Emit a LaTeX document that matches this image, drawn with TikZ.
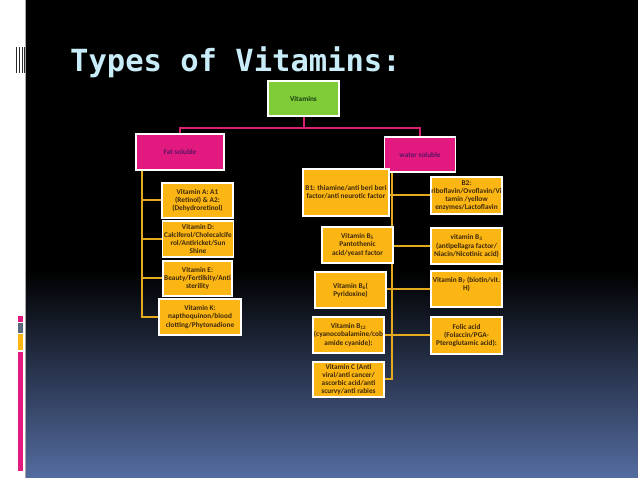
\documentclass[tikz,border=0pt]{standalone}
\usepackage{fontspec}
\setmainfont{Carlito}
\newfontfamily\titlefont{DejaVu Sans Mono}
\usetikzlibrary{calc}
\definecolor{boxyellow}{RGB}{252,182,20}
\definecolor{boxmag}{RGB}{226,25,127}
\definecolor{boxgreen}{RGB}{128,204,56}
\definecolor{lineyellow}{RGB}{230,170,30}
\definecolor{linemag}{RGB}{218,30,112}
\definecolor{titlecyan}{RGB}{200,236,248}
\definecolor{ytext}{RGB}{60,40,10}
\definecolor{mtext}{RGB}{90,20,100}
\definecolor{gtext}{RGB}{20,60,20}
\definecolor{slideblue}{RGB}{84,108,160}
\definecolor{markgray}{RGB}{90,105,125}
\pgfdeclarelayer{bg}
\pgfdeclarelayer{edges}
\pgfsetlayers{bg,edges,main}
\tikzset{
  vbox/.style={draw=white, line width=1.4pt, align=center, inner sep=0.5pt,
    font=\fontsize{7.3}{8.1}\selectfont\bfseries},
  ybox/.style={vbox, fill=boxyellow, text=ytext},
  mbox/.style={vbox, fill=boxmag, text=mtext},
  gbox/.style={vbox, fill=boxgreen, text=gtext},
  yline/.style={draw=lineyellow, line width=2pt},
  mline/.style={draw=linemag, line width=2pt},
}
\begin{document}
\begin{tikzpicture}[x=1pt,y=-1pt]
\useasboundingbox (0,0) rectangle (638,478);
\begin{pgfonlayer}{bg}
  \fill[white] (0,0) rectangle (638,478);
  \fill[black] (25.5,0) rectangle (638,272);
  \shade[top color=black, bottom color=slideblue] (25.5,271) rectangle (638,478);
  \draw[gray!70, line width=0.6pt] (25.3,0) -- (25.3,478);
  % striped marker
  \foreach \xx in {15.5,18.5,21.5,24} {\fill[black!85] (\xx,47) rectangle ++(1.4,26);}
  % bottom markers
  \fill[boxmag] (18,316) rectangle (23,322);
  \fill[markgray] (18,323.5) rectangle (23,333);
  \fill[boxyellow] (18,334.5) rectangle (23,350.5);
  \fill[boxmag] (18,352) rectangle (23,471);
\end{pgfonlayer}

\node[anchor=base west, text=titlecyan, font=\titlefont\bfseries\fontsize{30.5}{32}\selectfont, inner sep=0pt] (title) at (70,72) {Types of Vitamins:};

\node[gbox, minimum width=71pt, minimum height=35pt] (vit) at (303.5,98.5) {Vitamins};
\node[mbox, minimum width=88pt, minimum height=36pt] (fat) at (180,152) {Fat soluble};
\node[mbox, minimum width=71pt, minimum height=35pt] (water) at (420,154.5) {water soluble};

\node[ybox, minimum width=71pt, minimum height=35pt] (A) at (197.5,200.5) {Vitamin A: A1\\(Retinol) \& A2:\\(Dehydroretinol)};
\node[ybox, minimum width=71pt, minimum height=36pt] (D) at (198,239) {Vitamin D:\\Calciferol/Cholecalcife\\rol/Antiricket/Sun\\Shine};
\node[ybox, minimum width=69pt, minimum height=35pt] (E) at (197.5,278.5) {Vitamin E:\\Beauty/Fertilkity/Anti\\sterility};
\node[ybox, minimum width=82pt, minimum height=36pt] (K) at (200,317) {Vitamin K:\\napthoquinon/blood\\clotting/Phytonadione};

\node[ybox, minimum width=86pt, minimum height=47pt] (B1) at (346,192.5) {B1: thiamine/anti beri beri\\factor/anti neurotic factor};
\node[ybox, minimum width=71pt, minimum height=36pt] (B5) at (357.5,245) {Vitamin B\textsubscript{5}\\Pantothenic\\acid/yeast factor};
\node[ybox, minimum width=71pt, minimum height=36pt] (B6) at (350.5,290) {Vitamin B\textsubscript{6}(\\Pyridoxine)};
\node[ybox, minimum width=71pt, minimum height=36pt] (B12) at (348.5,335) {Vitamin B\textsubscript{12}\\(cyanocobalamine/cob\\amide cyanide):};
\node[ybox, minimum width=71pt, minimum height=35pt] (C) at (348.5,379.5) {Vitamin C (Anti\\viral/anti cancer/\\ascorbic acid/anti\\scurvy/anti rabies};

\node[ybox, minimum width=71pt, minimum height=37pt] (B2) at (466.5,195.5) {B2:\\riboflavin/Ovoflavin/Vi\\tamin /yellow\\enzymes/Lactoflavin};
\node[ybox, minimum width=71pt, minimum height=36pt] (B3) at (466.5,246) {vitamin B\textsubscript{3}\\(antipellagra factor/\\Niacin/Nicotinic acid)};
\node[ybox, minimum width=71pt, minimum height=36pt] (B7) at (466.5,289) {Vitamin B\textsubscript{7} (biotin/vit.\\H)\\[2pt]};
\node[ybox, minimum width=71pt, minimum height=37pt] (Fo) at (466.5,335.5) {Folic acid\\(Folaccin/PGA-\\Pteroglutamic acid):};

\begin{pgfonlayer}{edges}
  \coordinate (hub) at ($(vit.south)+(0,11.5)$);
  \draw[mline] (vit.south) -- (hub) -| (fat.north);
  \draw[mline] (hub) -| (water.north);
  \coordinate (ft) at ($(fat.south west)+(7,0)$);
  \draw[yline] (ft) |- (A.west);
  \draw[yline] (ft) |- (D.west);
  \draw[yline] (ft) |- (E.west);
  \draw[yline] (ft) |- (K.west);
  \coordinate (wt) at ($(water.south west)+(8,0)$);
  \draw[yline] (wt) |- (C.east);
  \draw[yline] (B2.west) -- (B2.west -| B1.east);
  \draw[yline] (B3.west) -- (B3.west -| B5.east);
  \draw[yline] (B7.west) -- (B7.west -| B6.east);
  \draw[yline] (Fo.west) -- (Fo.west -| B12.east);
\end{pgfonlayer}
\end{tikzpicture}
\end{document}
